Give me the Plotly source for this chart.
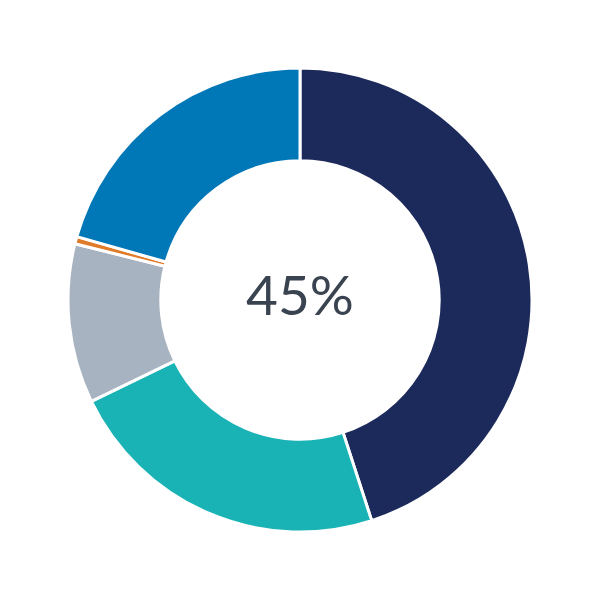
import plotly.graph_objects as go

labels = ["Navy", "Teal", "Grey", "Orange", "Blue"]
values = [45, 22.8, 11.1, 0.5, 20.6]
colors = ["#1b2a5a", "#1ab3b5", "#a8b3c2", "#e07b2a", "#0077b6"]
center_text = "45%"

fig = go.Figure(go.Pie(
    labels=labels, values=values, hole=0.6, sort=False, direction="clockwise",
    rotation=0, marker=dict(colors=colors, line=dict(color="white", width=3)),
    textinfo="none", hoverinfo="label+percent",
    domain=dict(x=[60/600, 524/600], y=[76/600, 540/600]),
))
fig.add_annotation(text=center_text, x=292/600, y=314/600, xref="paper", yref="paper",
                   showarrow=False, font=dict(family="Lato", size=55, color="#3a4350"))
fig.update_layout(width=600, height=600, margin=dict(l=0, r=0, t=0, b=0),
                  showlegend=False, paper_bgcolor="white")
fig.write_html("out.html")
